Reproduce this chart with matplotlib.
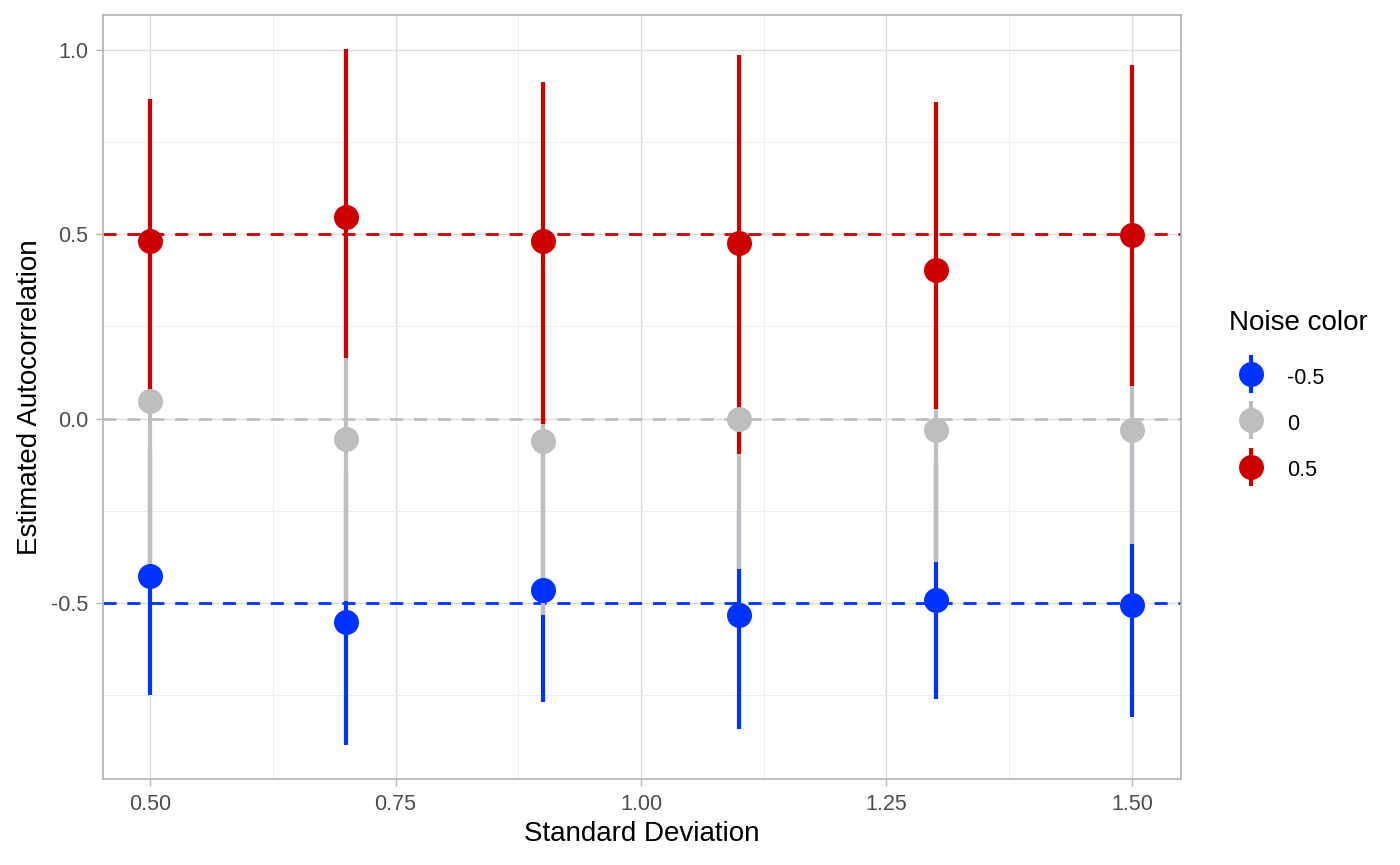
import numpy as np
import matplotlib.pyplot as plt
from matplotlib.lines import Line2D
from matplotlib.legend_handler import HandlerTuple
from matplotlib.ticker import MultipleLocator

plt.rcParams['font.family'] = ['Liberation Sans', 'DejaVu Sans']

# данные
sd = [0.5, 0.7, 0.9, 1.1, 1.3, 1.5]
noise = ['-0.5', '0', '0.5']
true_ac = [-0.5, 0.0, 0.5]

est_blue = [-0.428, -0.553, -0.465, -0.533, -0.491, -0.507]
low_blue = [-0.751, -0.886, -0.770, -0.841, -0.761, -0.809]
high_blue = [-0.082, -0.148, -0.092, -0.251, -0.116, -0.065]

est_gray = [0.049, -0.056, -0.061, 0.000, -0.030, -0.030]
low_gray = [-0.400, -0.495, -0.533, -0.409, -0.389, -0.341]
high_gray = [0.50, 0.38, 0.41, 0.41, 0.33, 0.28]

est_red = [0.481, 0.548, 0.481, 0.477, 0.403, 0.499]
low_red = [0.065, 0.163, -0.014, -0.097, 0.027, 0.089]
high_red = [0.867, 1.003, 0.912, 0.986, 0.858, 0.958]

colors = ['#0033FF', '#BEBEBE', '#CC0000']
est = [est_blue, est_gray, est_red]
low = [low_blue, low_gray, low_red]
high = [high_blue, high_gray, high_red]

fig = plt.figure(figsize=(14, 8.65), dpi=100)
ax = fig.add_axes([103 / 1400, 1 - 779 / 865, 1078 / 1400, 764 / 865])

# горизонтальные пунктирные линии (истинная автокорреляция)
for v, c in zip(true_ac, colors):
    ax.axhline(v, color=c, lw=2.0, ls=(0, (4.7, 3.9)), zorder=1.5)

# сначала все интервалы, потом все точки
for lo, hi, c in zip(low, high, colors):
    ax.vlines(sd, lo, hi, color=c, lw=3.0, zorder=2)
for e, c in zip(est, colors):
    ax.plot(sd, e, 'o', color=c, ms=18, mew=0, zorder=3)

ax.set_xlim(0.452, 1.55)
ax.set_ylim(-0.978, 1.095)
ax.set_xticks([0.5, 0.75, 1.0, 1.25, 1.5])
ax.set_xticklabels(['0.50', '0.75', '1.00', '1.25', '1.50'])
ax.set_yticks([-0.5, 0.0, 0.5, 1.0])
ax.set_yticklabels(['-0.5', '0.0', '0.5', '1.0'])
ax.xaxis.set_minor_locator(MultipleLocator(0.125))
ax.yaxis.set_minor_locator(MultipleLocator(0.25))

ax.grid(True, which='major', color='#DEDEDE', lw=1.0, zorder=0)
ax.grid(True, which='minor', color='#EDEDED', lw=0.7, zorder=0)
ax.set_axisbelow(True)
for s in ax.spines.values():
    s.set_color('#B3B3B3')
    s.set_linewidth(1.2)
ax.tick_params(which='major', color='#B3B3B3', length=5, width=1.0,
               labelsize=15.5, labelcolor='#4D4D4D')
ax.tick_params(axis='x', which='major', pad=6)
ax.tick_params(axis='y', which='major', pad=5.5)
ax.tick_params(which='minor', length=0)

ax.set_xlabel('Standard Deviation', fontsize=20, labelpad=4)
ax.set_ylabel('Estimated Autocorrelation', fontsize=20, labelpad=6)

handles = []
for c in colors:
    bar = Line2D([], [], marker='|', color=c, ms=27, mew=3, ls='None')
    dot = Line2D([], [], marker='o', color=c, ms=18, mew=0, ls='None')
    handles.append((bar, dot))
leg = fig.legend(handles, noise, title='Noise color', loc='center left',
                 bbox_to_anchor=(1218 / 1400, 1 - 396 / 865), frameon=False,
                 handler_map={tuple: HandlerTuple(ndivide=1, pad=0)},
                 fontsize=15.5, title_fontsize=20, labelspacing=1.0,
                 handlelength=2.1, handleheight=1.4, handletextpad=0.6,
                 borderpad=0)
leg._legend_box.align = 'left'
leg._legend_box.sep = 20

fig.savefig('out.png', dpi=100)
